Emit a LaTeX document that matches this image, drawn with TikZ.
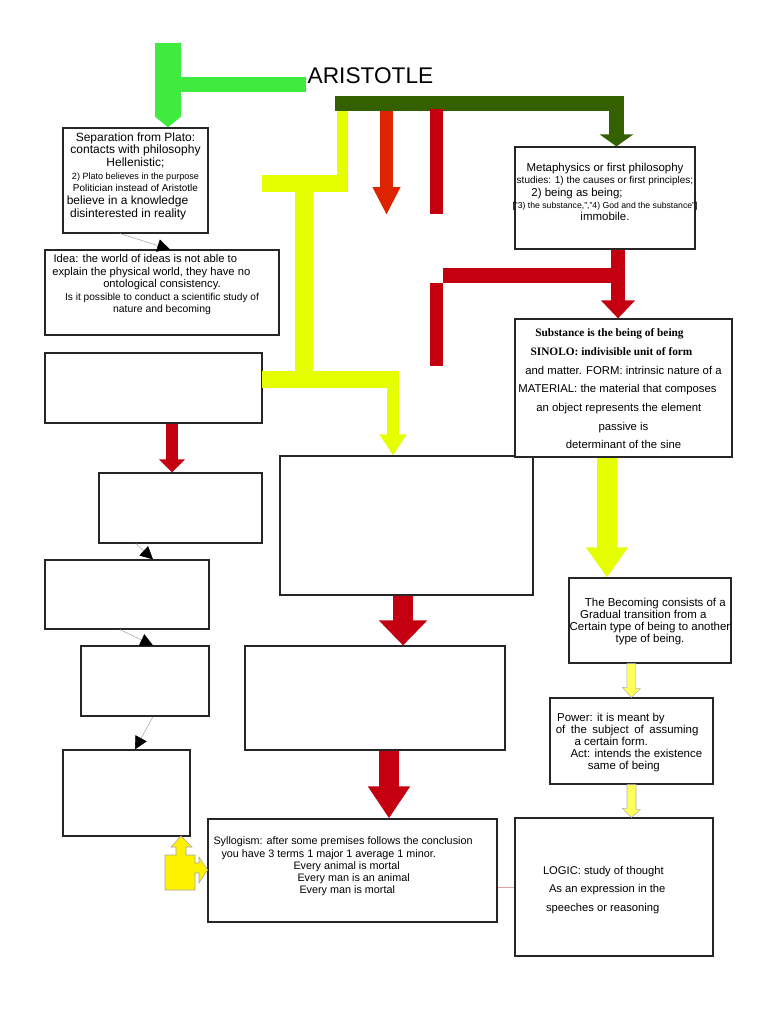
\documentclass[tikz,border=0pt]{standalone}
\usepackage{fontspec}
\setmainfont{Liberation Sans}
\newfontfamily\timesfont{Liberation Serif}
\usetikzlibrary{arrows.meta,fit,positioning}

\definecolor{lightgreen}{RGB}{62,235,62}
\definecolor{darkgreen}{RGB}{53,96,0}
\definecolor{limeyellow}{RGB}{230,255,0}
\definecolor{paleyellow}{RGB}{255,255,90}
\definecolor{orangered}{RGB}{221,36,0}
\definecolor{darkred}{RGB}{196,0,16}
\definecolor{linkpink}{RGB}{225,160,160}

% a line of fixed width, text flush left
\newcommand{\lrow}[2]{\makebox[#1][l]{#2}}

\tikzset{
  box/.style={draw=black!85, line width=0.9pt, fill=white, inner sep=0pt,
    font=\fontsize{8.6}{9.2}\selectfont},
  thinarrow/.style={draw=black!35, line width=0.4pt, -{Triangle[width=9.5pt,length=9.5pt,color=black]}},
  smallarrow/.style={fill=paleyellow, draw=black!30, line width=0.4pt},
}

\begin{document}
\begin{tikzpicture}[x=0.75pt,y=-0.75pt]
  \fill[white] (0,0) rectangle (768,1024);
  \useasboundingbox (0,0) rectangle (768,1024);

  \node[font=\fontsize{17}{20}\selectfont] (title) at (370.5,75.5) {ARISTOTLE};

  % left column
  \node[box, align=center, font=\fontsize{9}{9.5}\selectfont, fit={(63,128) (208,233)}] (plato) {Separation from Plato:\\ contacts with philosophy\\ Hellenistic;\\ {\fontsize{6.8}{9.5}\selectfont 2) Plato believes in the purpose}\\ {\fontsize{7.5}{9.5}\selectfont Politician instead of Aristotle}\\ believe in a knowledge\rule{12pt}{0pt}\\ disinterested in reality\rule{11pt}{0pt}};
  \node[box, align=center, font=\fontsize{8.4}{9.4}\selectfont, fit={(45,250) (279,335)}] (idea) {Idea: the world of ideas is not able to\rule{25pt}{0pt}\\ explain the physical world, they have no\rule{16pt}{0pt}\\ ontological consistency.\\ {\fontsize{7.6}{9.4}\selectfont Is it possible to conduct a scientific study of}\\ {\fontsize{7.8}{9.4}\selectfont nature and becoming}\\[-2.5pt]\mbox{}};
  \node[box, fit={(45,353) (262,423)}] (c1) {};
  \node[box, fit={(99,473) (262,543)}] (c2) {};
  \node[box, fit={(45,560) (209,629)}] (c3) {};
  \node[box, fit={(81,646) (209,716)}] (c4) {};
  \node[box, fit={(63,750) (190,836)}] (c5) {};

  % middle column
  \node[box, fit={(280,456) (533,595)}] (mid1) {};
  \node[box, fit={(245,646) (505,750)}] (mid2) {};
  \node[box, align=left, text width=209pt, font=\fontsize{8.1}{9.2}\selectfont, fit={(208,819) (497,922)}] (syll) {\lrow{208.5pt}{Syllogism: after some premises follows the conclusion}\\ \lrow{208.5pt}{\hspace*{6pt}you have 3 terms 1 major 1 average 1 minor.}\\ \lrow{208.5pt}{\hspace*{60pt}Every animal is mortal}\\ \lrow{208.5pt}{\hspace*{63pt}Every man is an animal}\\ \lrow{208.5pt}{\hspace*{64.5pt}Every man is mortal}};

  % right column
  \node[box, align=center, font=\fontsize{8.6}{9.2}\selectfont, fit={(515,147) (695,249)}] (meta) {Metaphysics or first philosophy\\ \makebox[0pt]{\fontsize{7.5}{9.2}\selectfont studies: 1) the causes or first principles;}\\ 2) being as being;\rule{42pt}{0pt}\\ \makebox[0pt]{\fontsize{6.5}{9.2}\selectfont ["3) the substance,","4) God and the substance"]}\\ immobile.\\[-6.5pt]\mbox{}};
  \node[box, align=center, font=\fontsize{8.5}{14}\selectfont, fit={(515,319) (732,457)}] (subst) {\mbox{}\\[-6.5pt]{\timesfont\bfseries Substance is the being of being}\rule{21pt}{0pt}\\ {\timesfont\bfseries SINOLO: indivisible unit of form}\rule{18pt}{0pt}\\ and matter. FORM: intrinsic nature of a\\ MATERIAL: the material that composes\rule{9pt}{0pt}\\ an object represents the element\rule{7pt}{0pt}\\ passive is\\ determinant of the sine};
  \node[box, align=center, font=\fontsize{8.6}{9}\selectfont, fit={(569,578) (731,663)}] (becom) {\mbox{}\\[-1.5pt]\hspace*{8pt}The Becoming consists of a\\ Gradual transition from a\rule{10pt}{0pt}\\ Certain type of being to another\\ type of being.};
  \node[box, align=left, text width=114pt, font=\fontsize{8.6}{9}\selectfont, fit={(550,698) (713,784)}] (power) {\mbox{}\\[0pt]\lrow{113.5pt}{\hspace*{1pt}Power: it is meant by}\\ \lrow{113.5pt}{\makebox[107pt][s]{of the subject of assuming}}\\ \lrow{113.5pt}{\hspace*{14pt}a certain form.}\\ \lrow{113.5pt}{\hspace*{11pt}Act: intends the existence}\\ \lrow{113.5pt}{\hspace*{24pt}same of being}};
  \node[box, align=left, text width=107pt, font=\fontsize{8.4}{14}\selectfont, fit={(515,818) (713,956)}] (logic) {\mbox{}\\[-3.5pt]\lrow{106.5pt}{LOGIC: study of thought}\\ \lrow{106.5pt}{\hspace*{4.5pt}As an expression in the}\\ \lrow{106.5pt}{\hspace*{2.3pt}speeches or reasoning}};

  % green bar from the title
  \coordinate (gtop) at (168,43);
  \coordinate (gmid) at (306,84.5);
  \draw[lightgreen, line width=11.6pt] (gmid) -- (gmid -| gtop);
  \draw[lightgreen, line width=19.5pt, -{Triangle[width=19.5pt,length=8.25pt]}] (gtop) -- (gtop |- plato.north);

  % dark green bar
  \coordinate (dgl) at (335,103.5);
  \coordinate (dgx) at ([xshift=8.6pt]meta.north);
  \draw[darkgreen, line width=11.25pt, -{Triangle[width=24.75pt,length=9pt]}] (dgl) -| (dgx);

  % yellow branches
  \fill[limeyellow] (337,111) rectangle (348,192);
  \fill[limeyellow] (262,175) rectangle (348,192);
  \fill[limeyellow] (295,192) rectangle (313,388);
  \fill[limeyellow] (262,371) rectangle (399,388);
  \coordinate (yarm) at (393,388);
  \draw[limeyellow, line width=9pt, -{Triangle[width=19.5pt,length=15.75pt]}] (yarm) -- (yarm |- mid1.north);

  % red bars under the dark green one
  \coordinate (ra) at (386.5,111);
  \coordinate (rb) at (386.5,215);
  \draw[orangered, line width=9.75pt, -{Triangle[width=19.5pt,length=21pt]}] (ra) -- (rb);
  \fill[darkred] (430,109) rectangle (443,214);

  % red from metaphysics to substance
  \coordinate (ms) at ([xshift=9.75pt]meta.south);
  \draw[darkred, line width=10.5pt, -{Triangle[width=24.75pt,length=13.5pt]}] (ms) -- (ms |- subst.north);
  \fill[darkred] (443,268) rectangle (625,283);
  \fill[darkred] (430,283) rectangle (443,366);

  % red arrows
  \coordinate (cd) at ([xshift=13.9pt]c1.south);
  \draw[darkred, line width=9pt, -{Triangle[width=18.75pt,length=9.75pt]}] (cd) -- (cd |- c2.north);
  \coordinate (hi) at ([xshift=-2.6pt]mid1.south);
  \draw[darkred, line width=15pt, -{Triangle[width=35.25pt,length=18.75pt]}] (hi) -- (hi |- mid2.north);
  \coordinate (ij) at ([xshift=10.5pt]mid2.south);
  \draw[darkred, line width=15pt, -{Triangle[width=30pt,length=24pt]}] (ij) -- (ij |- syll.north);

  % yellow arrows on the right
  \coordinate (lm) at ([xshift=-12.4pt]subst.south);
  \draw[limeyellow, line width=15pt, -{Triangle[width=30pt,length=22.5pt]}] (lm) -- (lm |- becom.north);
  \coordinate (mn) at ([xshift=-13.9pt]becom.south);
  \filldraw[smallarrow] (mn) ++(-4.5,0) -- ++(9,0) -- ++(0,25) -- ++(4.5,0) -- (mn |- power.north) -- ++(-9,-10) -- ++(4.5,0) -- cycle;
  \coordinate (no) at (power.south);
  \filldraw[smallarrow] (no) ++(-4.5,0) -- ++(9,0) -- ++(0,25) -- ++(4.5,0) -- (no |- logic.north) -- ++(-9,-9) -- ++(4.5,0) -- cycle;

  % yellow double arrow
  \filldraw[fill=yellow, draw=black!35, line width=0.4pt] (165,855) -- (176,855) -- (176,847) -- (171,847) -- (181,836) -- (192,847) -- (186,847) -- (186,855) -- (195,855) -- (195,863) -- (199,863) -- (199,857) -- (207.5,870) -- (199,883) -- (199,873) -- (195,873) -- (195,890) -- (165,890) -- cycle;

  % thin links
  \draw[thinarrow] ([xshift=-11.6pt]plato.south) -- ([xshift=6pt]idea.north);
  \draw[thinarrow] ([xshift=-33.4pt]c2.south) -- ([xshift=19.5pt]c3.north);
  \draw[thinarrow] ([xshift=-5.3pt]c3.south) -- ([xshift=6pt]c4.north);
  \draw[thinarrow] ([xshift=6pt]c4.south) -- ([xshift=6.4pt]c5.north);
  \draw[linkpink, line width=0.5pt] (syll.east |- logic.west) -- (logic.west);
\end{tikzpicture}
\end{document}
